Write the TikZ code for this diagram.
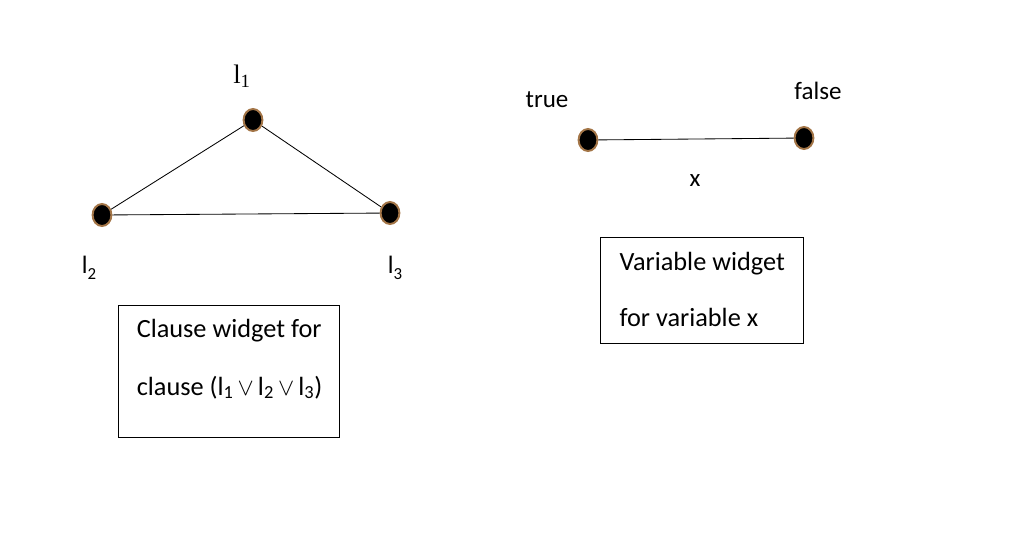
\documentclass[tikz,border=0pt]{standalone}
\usepackage{fontspec}
\setmainfont{Carlito}
\newfontfamily\serifl{Liberation Serif}
\usetikzlibrary{calc,shapes}

\newcommand{\lsub}[1]{l\raisebox{-0.55ex}{\fontsize{12}{12}\selectfont #1}}

\begin{document}
\begin{tikzpicture}[x=0.025cm,y=-0.025cm,
dot/.style={ellipse,draw=brown!80!black!90,line width=1.4pt,fill=black,minimum width=0.47cm,minimum height=0.55cm,inner sep=0pt},
lab/.style={font=\fontsize{17.8}{20}\selectfont,inner sep=0pt},
wbox/.style={rectangle,draw=black,line width=0.7pt,inner sep=0pt},
wtxt/.style={font=\fontsize{18.7}{21}\selectfont,anchor=west,inner sep=0pt}]
	\useasboundingbox (0,0) rectangle (1024,547);
	%clause widget
	\node[dot] at (253,120) (l1) {};
	\node[dot] at (102,215) (l2) {};
	\node[dot] at (390,213) (l3) {};
	\draw[line width=0.6pt] (l1) -- (l2);
	\draw[line width=0.6pt] (l1) -- (l3);
	\draw[line width=0.6pt] (l2) -- (l3);
	\node[lab,font=\serifl\fontsize{19}{20}\selectfont] at (242,76) (l1lab) {l\textsubscript{1}};
	\node[lab] at (89,268) (l2lab) {\lsub{2}};
	\node[lab] at (395,268) (l3lab) {\lsub{3}};
	\node[wbox,minimum width=5.5cm,minimum height=3.28cm] at (229,371.5) (cbox) {};
	\node[wtxt] at ([xshift=0.45cm,yshift=-0.63cm]cbox.north west) (ct1) {Clause widget for};
	\node[wtxt] at ([xshift=0.45cm,yshift=-2.05cm]cbox.north west) (ct2) {clause (l\textsubscript{1}$\,\vee\,$l\textsubscript{2}$\,\vee\,$l\textsubscript{3})};
	%variable widget
	\node[dot] at (588,140) (tr) {};
	\node[dot] at (804,138) (fa) {};
	\draw[line width=0.6pt] (tr) -- (fa);
	\node[lab] at (547,100) (trlab) {true};
	\node[lab] at (818,91) (falab) {false};
	\node[lab] at (695,181) (xlab) {x};
	\node[wbox,minimum width=5.05cm,minimum height=2.65cm] at (702,290) (vbox) {};
	\node[wtxt] at ([xshift=0.47cm,yshift=-0.67cm]vbox.north west) (vt1) {Variable widget};
	\node[wtxt] at ([xshift=0.47cm,yshift=-2.02cm]vbox.north west) (vt2) {for variable x};
\end{tikzpicture}
\end{document}
